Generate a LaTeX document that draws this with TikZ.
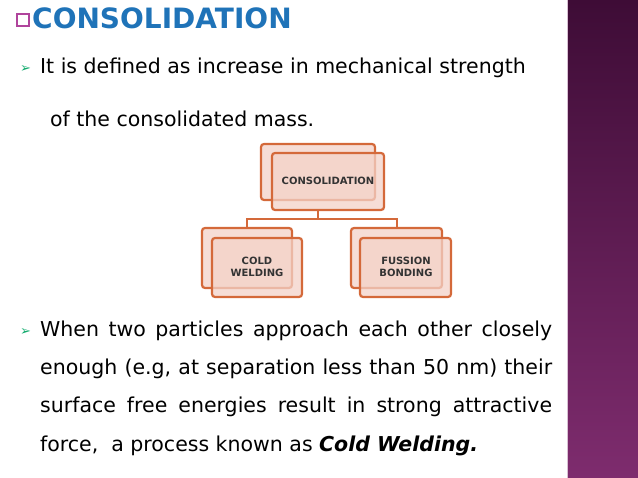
\documentclass[tikz,border=0pt]{standalone}
\usepackage{fontspec}
\setmainfont{DejaVu Sans}
\definecolor{brd}{HTML}{D4693A}
\definecolor{fil}{HTML}{F3D2C8}
\definecolor{ttl}{HTML}{1F73B8}
\definecolor{pa}{HTML}{3E0C36}
\definecolor{pb}{HTML}{7E2C6E}
\definecolor{mag}{HTML}{B0449C}
\tikzset{
 box/.style={draw=brd,line width=2.2pt,fill=fil,fill opacity=0.75,rounded corners=3pt},
 lbl/.style={font=\fontsize{10}{12.5}\selectfont\bfseries,align=center,text=black!80},
 body/.style={font=\fontsize{20.5}{24}\selectfont,anchor=base west,inner sep=0},
 bul/.style={text=ttl!60!green,font=\fontsize{13}{16}\selectfont,anchor=base west,inner sep=0},
 conn/.style={draw=brd,line width=2pt}
}
\begin{document}
\begin{tikzpicture}[x=1pt,y=-1pt]
\useasboundingbox (0,0) rectangle (638,478);
\fill[top color=pa,bottom color=pb] (568,0) rectangle (638,478);
\draw[white!70!pb,line width=1pt] (567,0) -- (567,478);
% title
\node[draw=mag,line width=2pt,minimum size=12pt,inner sep=0] (sq) at (23,20) {};
\node[font=\fontsize{28}{32}\selectfont\bfseries,text=ttl,anchor=base west,inner sep=0] (title) at (32,29) {CONSOLIDATION};
% bullet 1
\node[bul] (b1) at (20,73) {➢};
\node[body] (t1) at (40,74) {It is defined as increase in mechanical strength};
\node[body] (t2) at (50,127) {of the consolidated mass.};
% diagram
\draw[box] (261,144) rectangle (375,200);
\draw[box] (272,153) rectangle (384,210);
\node[lbl] (c) at (328,181) {CONSOLIDATION};
\draw[box] (202,228) rectangle (292,288);
\draw[box] (212,238) rectangle (302,297);
\node[lbl] (cw) at (257,267) {COLD\\WELDING};
\draw[box] (351,228) rectangle (442,288);
\draw[box] (360,238) rectangle (451,297);
\node[lbl] (fb) at (406,267) {FUSSION\\BONDING};
\coordinate (top) at (318,210);
\coordinate (l) at (247,228);
\coordinate (r) at (397,228);
\draw[conn] (top) -- ++(0,9) -| (l);
\draw[conn] (top) ++(0,9) -| (r);
% bullet 2
\node[bul] (b2) at (20,336) {➢};
\node[body] (p1) at (40,337) {\makebox[512pt][s]{When two particles approach each other closely}};
\node[body] (p2) at (40,375) {\makebox[512pt][s]{enough (e.g, at separation less than 50 nm) their}};
\node[body] (p3) at (40,413) {\makebox[512pt][s]{surface free energies result in strong attractive}};
\node[body] (p4) at (40,452) {force,\ \ a process known as \textbf{\textit{Cold Welding.}}};
\end{tikzpicture}
\end{document}
